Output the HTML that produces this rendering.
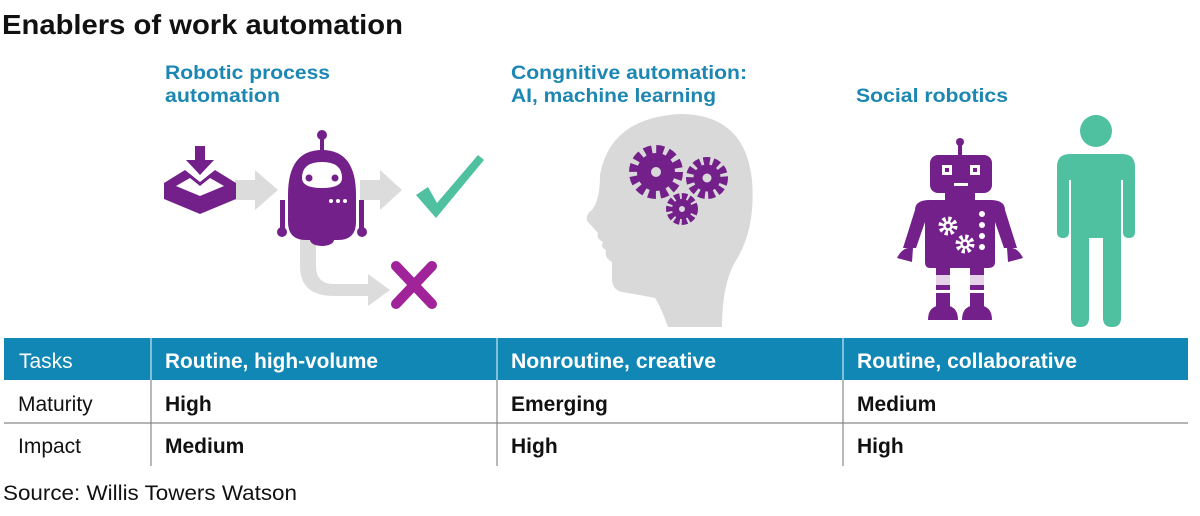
<!DOCTYPE html>
<html><head><meta charset="utf-8"><style>
html,body{margin:0;padding:0;background:#fff;width:1200px;height:516px;overflow:hidden}
text{font-family:"Liberation Sans",Arial,sans-serif}
</style></head><body>
<svg width="1200" height="516" viewBox="0 0 1200 516" xmlns="http://www.w3.org/2000/svg">
<text x="2" y="34" font-size="28" font-weight="bold" fill="#111" textLength="401" lengthAdjust="spacingAndGlyphs">Enablers of work automation</text>
<g font-size="19" font-weight="bold" fill="#1c87b3">
<text x="165" y="79" textLength="165" lengthAdjust="spacingAndGlyphs">Robotic process</text>
<text x="165" y="102" textLength="115" lengthAdjust="spacingAndGlyphs">automation</text>
<text x="511" y="79" textLength="236" lengthAdjust="spacingAndGlyphs">Congnitive automation:</text>
<text x="511" y="102" textLength="205" lengthAdjust="spacingAndGlyphs">AI, machine learning</text>
<text x="856" y="102" textLength="152" lengthAdjust="spacingAndGlyphs">Social robotics</text>
</g>
<!-- RPA -->
<g fill="#dcdcdc">
<path d="M235 180 H255 V170 L278 190 L255 210 V200 H235Z"/>
<path d="M360 180 H380 V170 L402 190 L380 210 V200 H360Z"/>
<path d="M316 236 V266 Q316 284 334 284 H368 V274 L390 290 L368 306 V296 H334 Q300 296 300 266 V236Z"/>
</g>
<g fill="#74208a">
<path d="M195 146 H205 V160 H214 L200 175 L186 160 H195Z"/>
<path d="M164 183 L185 170 L200 182 L215 170 L236 183 V199 L200 214 L164 199Z"/>
<path d="M176 186 L200 196 L224 186 L210 178 L200 186 L190 178Z" fill="#fff"/>
<circle cx="322" cy="135" r="5"/><rect x="320" y="138" width="4" height="14"/>
<path d="M288 195 Q288 150 322 150 Q356 150 356 195 V222 Q356 240 338 240 H306 Q288 240 288 222Z"/>
<ellipse cx="322" cy="240" rx="12" ry="6"/>
<rect x="280" y="200" width="5" height="30"/><circle cx="282" cy="232" r="5"/>
<rect x="359" y="200" width="5" height="30"/><circle cx="362" cy="232" r="5"/>
<g stroke="#a0239a" stroke-width="10" stroke-linecap="round"><line x1="396" y1="266" x2="432" y2="304"/><line x1="432" y1="266" x2="396" y2="304"/></g>
</g>
<path d="M302 178 Q302 162 322 162 Q342 162 342 178 Q342 188 322 188 Q302 188 302 178Z" fill="#fff"/>
<circle cx="309" cy="178" r="3.5" fill="#74208a"/><circle cx="335" cy="178" r="3.5" fill="#74208a"/>
<g fill="#fff"><circle cx="331" cy="201" r="2"/><circle cx="338" cy="201" r="2"/><circle cx="345" cy="201" r="2"/></g>
<path d="M416 195 L428 187 L437 203 L478 155 L484 160 L436 218Z" fill="#4fc0a0"/>
<!-- head -->
<path d="M600 175 Q610 118 680 114 Q745 114 752 180 Q756 230 735 262 Q722 285 722 327 H668 Q660 305 655 298 Q640 295 622 292 Q612 290 612 278 L612 262 Q604 258 606 250 Q600 247 603 242 Q596 239 598 233 L588 222 Q584 216 592 210 Q600 200 600 175Z" fill="#d9d9d9"/>
<g fill="none" stroke="#74208a">
<circle cx="656" cy="172" r="21" stroke-width="12" stroke-dasharray="7 4"/>
<circle cx="656" cy="172" r="12" stroke-width="14"/>
<circle cx="707" cy="178" r="16" stroke-width="10" stroke-dasharray="6 3"/>
<circle cx="707" cy="178" r="9" stroke-width="9"/>
<circle cx="682" cy="209" r="12" stroke-width="8" stroke-dasharray="5 2"/>
<circle cx="682" cy="209" r="6.5" stroke-width="7"/>
</g>
<!-- social robot -->
<g fill="#74208a">
<circle cx="960" cy="142" r="4"/><rect x="958" y="144" width="4" height="12"/>
<rect x="930" y="155" width="62" height="38" rx="8"/>
<rect x="945" y="193" width="30" height="10"/>
<path d="M915 210 Q915 200 930 200 H990 Q1005 200 1005 210 L1017 248 H1004 L995 222 V262 Q995 268 988 268 H930 Q925 268 925 262 V222 L916 248 H903Z"/>
<path d="M897 258 Q903 246 913 248 L912 262 Z"/><path d="M1023 258 Q1017 246 1007 248 L1008 262Z"/>
<rect x="936" y="268" width="14" height="40"/><rect x="970" y="268" width="14" height="40"/>
<path d="M928 320 Q928 305 943 305 Q958 305 958 320Z"/><path d="M962 320 Q962 305 977 305 Q992 305 992 320Z"/>
</g>
<g fill="#fff"><rect x="942" y="165" width="10" height="10"/><rect x="970" y="165" width="10" height="10"/><rect x="954" y="183" width="14" height="3"/>
<rect x="936" y="275" width="14" height="10" opacity=".8"/><rect x="970" y="275" width="14" height="10" opacity=".8"/>
<rect x="936" y="290" width="14" height="3"/><rect x="970" y="290" width="14" height="3"/></g>
<g fill="#74208a"><rect x="945" y="168" width="4" height="4"/><rect x="973" y="168" width="4" height="4"/></g>
<g fill="none" stroke="#fff">
<circle cx="948" cy="226" r="7" stroke-width="5" stroke-dasharray="3 2.5"/><circle cx="948" cy="226" r="3.5" stroke-width="2.5"/>
<circle cx="965" cy="244" r="7" stroke-width="5" stroke-dasharray="3 2.5"/><circle cx="965" cy="244" r="3.5" stroke-width="2.5"/>
</g>
<g fill="#fff"><circle cx="982" cy="214" r="3"/><circle cx="982" cy="225" r="3"/><circle cx="982" cy="236" r="3"/><circle cx="982" cy="247" r="3"/></g>
<!-- human -->
<g fill="#4fc0a0">
<circle cx="1096" cy="131" r="16"/>
<path d="M1070 154 H1122 Q1135 154 1135 167 V232 Q1135 238 1129 238 Q1123 238 1123 232 V180 H1121 V318 Q1121 327 1112 327 Q1103 327 1103 318 V238 H1089 V318 Q1089 327 1080 327 Q1071 327 1071 318 V180 H1069 V232 Q1069 238 1063 238 Q1057 238 1057 232 V167 Q1057 154 1070 154Z"/>
</g>
<!-- table -->
<rect x="4" y="338" width="1184" height="42" fill="#1187b6"/>
<g stroke="#a9d3e6" stroke-width="1.5"><line x1="151" y1="338" x2="151" y2="380"/><line x1="497" y1="338" x2="497" y2="380"/><line x1="843" y1="338" x2="843" y2="380"/></g>
<g stroke="#888" stroke-width="1.2"><line x1="151" y1="380" x2="151" y2="466"/><line x1="497" y1="380" x2="497" y2="466"/><line x1="843" y1="380" x2="843" y2="466"/><line x1="4" y1="423" x2="1188" y2="423"/></g>
<g font-size="21" fill="#fff"><text x="19" y="368">Tasks</text>
<g font-weight="bold"><text x="165" y="368" textLength="213" lengthAdjust="spacingAndGlyphs">Routine, high-volume</text><text x="511" y="368" textLength="205" lengthAdjust="spacingAndGlyphs">Nonroutine, creative</text><text x="857" y="368" textLength="220" lengthAdjust="spacingAndGlyphs">Routine, collaborative</text></g></g>
<g font-size="21" fill="#111"><text x="18" y="411">Maturity</text><text x="18" y="453">Impact</text>
<g font-weight="bold"><text x="165" y="411">High</text><text x="511" y="411">Emerging</text><text x="857" y="411">Medium</text>
<text x="165" y="453">Medium</text><text x="511" y="453">High</text><text x="857" y="453">High</text></g></g>
<text x="3" y="500" font-size="21" fill="#111" textLength="294" lengthAdjust="spacingAndGlyphs">Source: Willis Towers Watson</text>
</svg>
</body></html>
